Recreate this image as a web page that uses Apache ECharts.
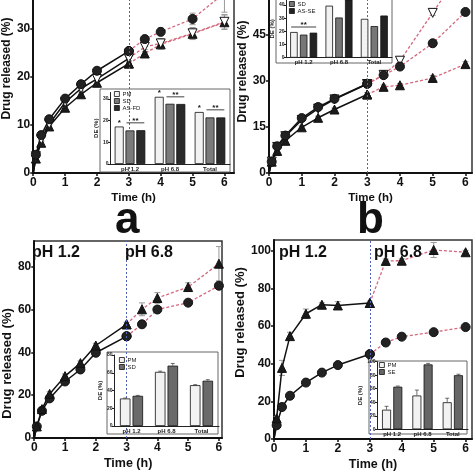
<!DOCTYPE html>
<html lang="en">
<head>
  <meta charset="UTF-8">
  <title>Drug release profiles</title>
  <script src="https://cdn.jsdelivr.net/npm/echarts@6/dist/echarts.min.js"></script>
  <style>
    html, body { margin: 0; padding: 0; background: #fff; }
    #chart { width: 474px; height: 474px; }
  </style>
</head>
<body>
  <div id="chart"></div>
  <script>
    var myChart = echarts.init(document.getElementById('chart'));

    // sampling times (h)
    const time = [0, 0.083, 0.25, 0.5, 1, 1.5, 2, 3, 3.5, 4, 5, 6];
    const timeTicks = [0, 1, 2, 3, 4, 5, 6];

    // panel a
    const aCircle = [0, 3.8, 7.9, 11.2, 15.5, 18.5, 21.3, 25.4, 27.9, 29.4, 32.1, 37.5];
    const aDown   = [0, 3.5, 7.0, 10.2, 14.7, 17.6, 19.6, 23.9, 26.3, 27.0, 29.1, 31.5];
    const aUp     = [0, 3.0, 6.3, 9.7, 13.6, 16.4, 18.8, 22.8, 24.9, 26.8, 29.0, 31.4];
    const aCircleErr = [0, 0.3, 0.4, 0.4, 0.5, 0.5, 0.5, 0.5, 0.6, 0.8, 1.2, 4];
    const aDownErr   = [0, 0.3, 0.3, 0.4, 0.4, 0.5, 0.5, 0.5, 1, 1, 1.2, 1.5];
    const aUpErr     = [0, 0.3, 0.3, 0.4, 0.4, 0.5, 0.5, 0.5, 0.8, 1, 1.2, 1.5];

    // panel b
    const bCircle = [0, 3.7, 8.7, 12.2, 17.9, 21.5, 24.2, 29.1, 31.9, 34.7, 42.3, 52.5];
    const bDown   = [0, 3.7, 8.5, 12.0, 17.3, 21.0, 24.0, 29.0, 32.0, 36.6, 52.2, 68];
    const bUp     = [0, 3.7, 7.2, 10.5, 14.9, 18.0, 20.7, 25.6, 28.1, 28.6, 31.0, 35.5];
    const bErr    = [0, 0.3, 0.4, 0.4, 0.5, 0.5, 0.5, 0.6, 0.6, 0.6, 0.8, 0.8];

    // panel c
    const cUp     = [0, 5.4, 13.5, 20.6, 28.9, 35.0, 43.2, 53.1, 60.1, 65.4, 70.5, 81.4];
    const cCircle = [0, 5.4, 12.7, 18.5, 26.4, 32.0, 39.8, 47.5, 53.1, 60.0, 63.2, 71.1];
    const cUpErr     = [0, 0.5, 0.8, 1, 1, 1, 1, 1, 3, 2.5, 2, 8];
    const cCircleErr = [0, 0.5, 0.5, 0.8, 0.8, 0.8, 0.8, 0.8, 0.8, 1, 1, 1];

    // panel d
    const dUp     = [0, 11, 37.8, 54.7, 66.6, 71.4, 71.0, 72.3, 94.7, 94.8, 100.5, 99.3];
    const dCircle = [0, 7.3, 17.0, 23.0, 30.0, 35.3, 39.3, 45.1, 51.3, 54.4, 56.8, 59.5];
    const dUpErr     = [0, 1, 4, 2, 2.5, 1, 2, 1, 1, 1, 4, 1];
    const dCircleErr = [0, 0.5, 0.5, 0.8, 0.8, 0.8, 0.8, 0.8, 0.8, 0.8, 1, 1];

    // dissolution efficiency insets
    const deCats = ['pH 1.2', 'pH 6.8', 'Total'];
    const deA = { PM: [17.3, 31.0, 24.0], SD: [15.5, 27.8, 21.5], 'AS-FD': [15.6, 27.7, 21.5] };
    const deB = { PM: [19.5, 39.5, 29.5], SD: [17.5, 30.5, 24.0], 'AS-SE': [19.0, 52.0, 32.0] };
    const deC = { PM: [31, 61, 46], SD: [34, 68, 51] };
    const deD = { PM: [29, 50, 40], SE: [63, 96, 80] };
    const deDErr = { PM: [5, 8, 6], SE: [1, 1.5, 1.5] };
    const deCErr = { PM: [0.5, 0.8, 0.6], SD: [0.5, 2.5, 1.2] };
    const sigA = [[0, 19], [1, 31], [2, 25]];   // ** brackets over SD / AS-FD
    const sigB = [[0, 23.3]];                    // ** bracket over all of pH 1.2

    const FONT = 'Liberation Sans, Arial, Helvetica, sans-serif';
    const INK = '#111';
    const RED = '#d4687c';

    function errRender(params, api) {
      const e = api.value(2);
      if (!e) return;
      const x = api.value(0), y = api.value(1);
      const t = api.coord([x, y + e]), b = api.coord([x, y - e]);
      const st = { stroke: '#999', lineWidth: 1 };
      return { type: 'group', children: [
        { type: 'line', shape: { x1: t[0], y1: t[1], x2: b[0], y2: b[1] }, style: st },
        { type: 'line', shape: { x1: t[0] - 3, y1: t[1], x2: t[0] + 3, y2: t[1] }, style: st },
        { type: 'line', shape: { x1: b[0] - 3, y1: b[1], x2: b[0] + 3, y2: b[1] }, style: st }
      ]};
    }

    // one release curve: solid black in pH 1.2 (t<=3), dashed red in pH 6.8 (t>=3)
    function curve(gi, ys, err, mark, withLine) {
      const pt = i => time[i] === 0 ? { value: [time[i], ys[i]], symbol: 'none' } : [time[i], ys[i]];
      const idx = time.map((t, i) => i);
      const common = {
        type: 'line', xAxisIndex: gi, yAxisIndex: gi, symbol: mark.symbol, symbolSize: 9,
        symbolRotate: mark.rotate || 0, showAllSymbol: true, z: 3, silent: true,
        itemStyle: { color: mark.fill, borderColor: INK, borderWidth: 1 }
      };
      const solid = Object.assign({}, common, {
        data: idx.filter(i => time[i] <= 3).map(pt),
        lineStyle: { color: INK, width: 1.5 }
      });
      const dashed = Object.assign({}, common, {
        data: idx.filter(i => time[i] >= 3).map(pt),
        lineStyle: { color: RED, width: 1.3, type: [3, 2] }
      });
      if (withLine) {
        solid.markLine = {
          silent: true, symbol: 'none', label: { show: false }, animation: false,
          lineStyle: { color: '#5262b5', type: [2, 2], width: 1 },
          data: [{ xAxis: 3 }]
        };
      }
      const errS = {
        type: 'custom', xAxisIndex: gi, yAxisIndex: gi, z: 2, silent: true,
        data: time.map((t, i) => [t, ys[i], err[i]]), renderItem: errRender
      };
      return [errS, solid, dashed];
    }

    const dark = { symbol: 'circle', fill: '#222' };
    const up = { symbol: 'triangle', fill: '#1a1a1a' };
    const down = { symbol: 'triangle', rotate: 180, fill: '#fff' };

    function mainX(gi, max, fs) {
      return {
        type: 'value', gridIndex: gi, min: 0, max: max,
        axisLine: { lineStyle: { color: INK, width: 2 } },
        axisTick: { customValues: timeTicks, length: 3, lineStyle: { color: INK, width: 1.5 } },
        axisLabel: { customValues: timeTicks, fontSize: 12, fontWeight: 'bold', color: INK, margin: 4, fontFamily: FONT },
        splitLine: { show: false },
        name: 'Time (h)', nameLocation: 'middle', nameGap: 19,
        nameTextStyle: { fontSize: fs, fontWeight: 'bold', color: INK, fontFamily: FONT }
      };
    }
    function mainY(gi, max, ticks, fs, gap, pad) {
      return {
        type: 'value', gridIndex: gi, min: 0, max: max,
        axisLine: { show: true, lineStyle: { color: INK, width: 2 } },
        axisTick: { show: true, customValues: ticks, length: 3, lineStyle: { color: INK, width: 1.5 } },
        axisLabel: { customValues: ticks, fontSize: 12, fontWeight: 'bold', color: INK, margin: 3, fontFamily: FONT },
        splitLine: { show: false },
        name: 'Drug released (%)', nameLocation: 'middle', nameGap: gap,
        nameTextStyle: { fontSize: fs, fontWeight: 'bold', color: INK, fontFamily: FONT, padding: pad }
      };
    }
    // plain right-hand frame line for the panels whose top is cut off
    function rightFrame(gi, max) {
      return {
        type: 'value', gridIndex: gi, position: 'right', min: 0, max: max,
        axisLine: { show: true, lineStyle: { color: '#333', width: 1.5 } },
        axisTick: { show: false }, axisLabel: { show: false }, splitLine: { show: false }
      };
    }
    function insetX(gi) {
      return {
        type: 'category', gridIndex: gi, data: deCats, z: 10,
        axisLine: { lineStyle: { color: '#222', width: 1 } },
        axisTick: { show: false },
        axisLabel: { interval: 0, fontSize: 6, fontWeight: 'bold', color: '#222', margin: 2, fontFamily: FONT }
      };
    }
    function insetY(gi, max, ticks, gap) {
      return {
        type: 'value', gridIndex: gi, min: 0, max: max, z: 10,
        axisLine: { show: true, lineStyle: { color: '#222', width: 1 } },
        axisTick: { show: true, customValues: ticks, length: 2, lineStyle: { color: '#222' } },
        axisLabel: { customValues: ticks, fontSize: 5, color: '#222', margin: 1.5, fontFamily: FONT, fontWeight: 'bold' },
        splitLine: { show: false },
        name: 'DE (%)', nameLocation: 'middle', nameGap: gap,
        nameTextStyle: { fontSize: 6, fontWeight: 'bold', color: '#222', fontFamily: FONT }
      };
    }

    function bars(gi, tag, set, colors, bw, gap, starred) {
      return Object.keys(set).map((k, s) => {
        const ser = {
          type: 'bar', name: k + '_' + tag, xAxisIndex: gi, yAxisIndex: gi, z: 10,
          data: set[k], barWidth: bw, barGap: gap, silent: true,
          itemStyle: { color: colors[s], borderColor: INK, borderWidth: 0.8 }
        };
        if (starred && s === 0) {
          ser.label = { show: true, position: 'top', formatter: '*', fontSize: 8, distance: 0, color: INK, fontWeight: 'bold' };
        }
        return ser;
      });
    }
    function barOffset(s, n, bw, gapPx) { return (s - (n - 1) / 2) * (bw + gapPx); }

    function barErr(gi, set, errSet, bw, gapPx) {
      const keys = Object.keys(set), n = keys.length, data = [];
      keys.forEach((k, s) => set[k].forEach((v, c) => data.push([c, s, v, errSet[k][c]])));
      return {
        type: 'custom', xAxisIndex: gi, yAxisIndex: gi, z: 11, silent: true, data: data,
        renderItem: function (params, api) {
          const c = api.value(0), s = api.value(1), v = api.value(2), e = api.value(3);
          const x = api.coord([c, 0])[0] + barOffset(s, n, bw, gapPx);
          const t = api.coord([c, v + e])[1], b = api.coord([c, v])[1];
          const st = { stroke: '#333', lineWidth: 0.7 };
          return { type: 'group', children: [
            { type: 'line', shape: { x1: x, y1: t, x2: x, y2: b }, style: st },
            { type: 'line', shape: { x1: x - 2, y1: t, x2: x + 2, y2: t }, style: st }
          ]};
        }
      };
    }
    function brackets(gi, data, n, bw, gapPx, s0, s1) {
      return {
        type: 'custom', xAxisIndex: gi, yAxisIndex: gi, z: 11, silent: true, data: data,
        renderItem: function (params, api) {
          const p = api.coord([api.value(0), api.value(1)]);
          const x0 = p[0] + barOffset(s0, n, bw, gapPx) - bw / 2 + 1;
          const x1 = p[0] + barOffset(s1, n, bw, gapPx) + bw / 2 - 1;
          return { type: 'group', children: [
            { type: 'line', shape: { x1: x0, y1: p[1], x2: x1, y2: p[1] }, style: { stroke: INK, lineWidth: 0.8 } },
            { type: 'text', style: { text: '**', x: (x0 + x1) / 2, y: p[1] + 2, textAlign: 'center', textVerticalAlign: 'bottom',
              fontSize: 8, fontWeight: 'bold', fill: INK } }
          ]};
        }
      };
    }

    function insetLegend(tag, names, left, top) {
      return {
        data: names.map(n => n + '_' + tag), left: left, top: top, orient: 'vertical',
        icon: 'rect', itemWidth: 5, itemHeight: 5, itemGap: 1, z: 12, selectedMode: false,
        padding: 0, formatter: name => name.split('_')[0],
        itemStyle: { borderColor: INK, borderWidth: 0.8 },
        textStyle: { fontSize: 6, color: '#222', fontFamily: FONT, padding: [0, 0, 0, -2] }
      };
    }

    const boxStyle = { fill: '#fff', stroke: '#666', lineWidth: 1 };
    const bigText = (text, x, y, size) => ({
      type: 'text', x: x, y: y, z: 20,
      style: { text: text, fontSize: size, fontWeight: 'bold', fill: INK, fontFamily: FONT, textVerticalAlign: 'middle' }
    });

    const option = {
      animation: false,
      grid: [
        { left: 29, top: 0, width: 205, height: 173 },
        { left: 269, top: 0, width: 203, height: 173 },
        { left: 29, top: 241, width: 193, height: 197, show: true, borderColor: '#333', borderWidth: 1.5 },
        { left: 274, top: 240, width: 198, height: 199, show: true, borderColor: '#333', borderWidth: 1.5 },
        { left: 110, top: 92.5, width: 120, height: 71.5 },
        { left: 286, top: 0, width: 106, height: 57.7 },
        { left: 114, top: 355, width: 105, height: 71 },
        { left: 377, top: 361.7, width: 91, height: 67.6 }
      ],
      xAxis: [
        mainX(0, 6.3, 11.5), mainX(1, 6.2, 11.5), mainX(2, 6.1, 12.5), mainX(3, 6.2, 12.5),
        insetX(4), insetX(5), insetX(6), insetX(7)
      ],
      yAxis: [
        mainY(0, 36.04, [0, 10, 20, 30], 12, 13, [0, 0, 0, 36]),
        mainY(1, 56.4, [0, 15, 30, 45], 12, 13, [0, 0, 0, 30]),
        mainY(2, 92, [0, 20, 40, 60, 80], 13, 12, [0, 48, 0, 0]),
        mainY(3, 105.8, [0, 20, 40, 60, 80, 100], 13, 18, [0, 0, 0, 34]),
        insetY(4, 33, [0, 10, 20, 30], 8), insetY(5, 43.8, [0, 10, 20, 30, 40], 8),
        insetY(6, 80, [0, 20, 40, 60, 80], 8), insetY(7, 100, [0, 20, 40, 60, 80, 100], 6),
        rightFrame(0, 36.04), rightFrame(1, 56.4)
      ],
      legend: [
        insetLegend('a', ['PM', 'SD', 'AS-FD'], 114, 91),
        insetLegend('b', ['SD', 'AS-SE'], 289, 1),
        insetLegend('c', ['PM', 'SD'], 119, 357),
        insetLegend('d', ['PM', 'SE'], 379, 362)
      ],
      graphic: { elements: [
        { type: 'rect', z: 5, shape: { x: 100, y: 89, width: 130, height: 83 }, style: boxStyle },
        { type: 'rect', z: 5, shape: { x: 276, y: -30, width: 116, height: 93 }, style: boxStyle },
        { type: 'rect', z: 5, shape: { x: 107, y: 352, width: 111, height: 82 }, style: boxStyle },
        { type: 'rect', z: 5, shape: { x: 369, y: 361, width: 98, height: 73 }, style: boxStyle },
        bigText('a', 115, 221, 44),
        bigText('b', 357, 221, 44),
        bigText('pH 1.2', 32, 253, 16), bigText('pH 6.8', 125, 253, 16),
        bigText('pH 1.2', 279, 253, 16), bigText('pH 6.8', 374, 253, 16)
      ]},
      series: [].concat(
        curve(0, aUp, aUpErr, up, true), curve(0, aDown, aDownErr, down), curve(0, aCircle, aCircleErr, dark),
        curve(1, bUp, bErr, up, true), curve(1, bDown, bErr, down), curve(1, bCircle, bErr, dark),
        curve(2, cCircle, cCircleErr, dark, true), curve(2, cUp, cUpErr, up),
        curve(3, dCircle, dCircleErr, dark, true), curve(3, dUp, dUpErr, up),
        bars(4, 'a', deA, ['#f2f2f2', '#7a7a7a', '#2a2a2a'], 9, '20%', true),
        brackets(4, sigA, 3, 9, 1.8, 1, 2),
        bars(5, 'b', deB, ['#f2f2f2', '#777', '#222'], 7.5, '30%'),
        brackets(5, sigB, 3, 7.5, 2.25, 0, 2),
        bars(6, 'c', deC, ['#f2f2f2', '#6a6a6a'], 10.5, '20%'),
        barErr(6, deC, deCErr, 10.5, 2.1),
        bars(7, 'd', deD, ['#f2f2f2', '#666'], 9, '25%'),
        barErr(7, deD, deDErr, 9, 2.25)
      )
    };

    myChart.setOption(option);
  </script>
</body>
</html>
